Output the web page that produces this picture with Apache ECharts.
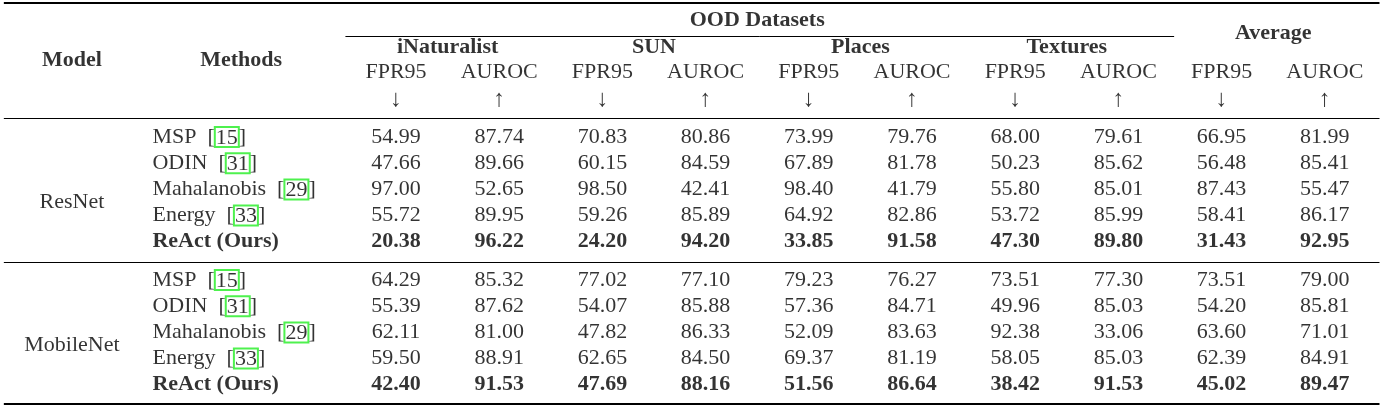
<!DOCTYPE html>
<html><head><meta charset="utf-8">
<script src="https://cdn.jsdelivr.net/npm/echarts@6/dist/echarts.min.js"></script>
<style>html,body{margin:0;padding:0;background:#fff}#c{width:1387px;height:409px}</style>
</head><body><div id="c"></div>
<script>
const datasets=['iNaturalist','SUN','Places','Textures'];
const metrics=['FPR95','AUROC'];
const arrows=['↓','↑'];
const models=['ResNet','MobileNet'];
const methods=['MSP','ODIN','Mahalanobis','Energy','ReAct (Ours)'];
const cites=['15','31','29','33',''];
const resnetVals=[
['54.99','87.74','70.83','80.86','73.99','79.76','68.00','79.61','66.95','81.99'],
['47.66','89.66','60.15','84.59','67.89','81.78','50.23','85.62','56.48','85.41'],
['97.00','52.65','98.50','42.41','98.40','41.79','55.80','85.01','87.43','55.47'],
['55.72','89.95','59.26','85.89','64.92','82.86','53.72','85.99','58.41','86.17'],
['20.38','96.22','24.20','94.20','33.85','91.58','47.30','89.80','31.43','92.95']];
const mobilenetVals=[
['64.29','85.32','77.02','77.10','79.23','76.27','73.51','77.30','73.51','79.00'],
['55.39','87.62','54.07','85.88','57.36','84.71','49.96','85.03','54.20','85.81'],
['62.11','81.00','47.82','86.33','52.09','83.63','92.38','33.06','63.60','71.01'],
['59.50','88.91','62.65','84.50','69.37','81.19','58.05','85.03','62.39','84.91'],
['42.40','91.53','47.69','88.16','51.56','86.64','38.42','91.53','45.02','89.47']];
const blocks=[resnetVals,mobilenetVals];

const FONT='Liberation Serif', FS=22;
const colModel=-3.14, colMethod=-2.36;
const blockTop=[137,280], rowStep=26.2, modelRow=[202,345];
const items=[];
function txt(x,y,t,opt){items.push({value:[x,y],label:Object.assign({formatter:t},opt||{})});}
const B={fontWeight:'bold'};
txt(3.5,20,'OOD Datasets',B);
datasets.forEach((d,i)=>txt(2*i+0.5,47,d,B));
txt(8.5,33,'Average',B);
txt(colModel,60,'Model',B);
txt(-1.5,60,'Methods',B);
for(let c=0;c<10;c++){txt(c,72,metrics[c%2]);txt(c,100,arrows[c%2],{fontSize:24});}
blocks.forEach((vals,b)=>{
  const y0=blockTop[b];
  txt(colModel,modelRow[b],models[b]);
  vals.forEach((row,r)=>{
    const y=y0+r*rowStep, bold=r===4;
    const m=cites[r]?'{m|'+methods[r]+'}  [{c|'+cites[r]+'}]':'{b|'+methods[r]+'}';
    txt(colMethod,y,m,{align:'left'});
    row.forEach((v,c)=>txt(c,y,v,bold?B:{}));
  });
});
const X0=-3.8,X1=9.53;
const lines=[[X0,3,X1,3,2],[-0.49,36,7.54,36,1],[X0,118,X1,118,1.2],[X0,262,X1,262,1.2],[X0,404,X1,404,2]];
const chart=echarts.init(document.getElementById('c'));
chart.setOption({
  animation:false,
  grid:{left:0,right:0,top:0,bottom:0},
  xAxis:{type:'value',min:-396/103.2,max:(1387-396)/103.2,show:false},
  yAxis:{type:'value',min:0,max:409,inverse:true,show:false},
  series:[{type:'scatter',symbolSize:0,data:items,
    label:{show:true,position:'inside',color:'#000',fontFamily:FONT,fontSize:FS,
      rich:{m:{fontFamily:FONT,fontSize:FS,color:'#000'},
            b:{fontFamily:FONT,fontSize:FS,color:'#000',fontWeight:'bold'},
            c:{fontFamily:FONT,fontSize:FS,color:'#000',borderColor:'#22ee22',borderWidth:2,padding:[0,1,-2,1]}}},
    markLine:{silent:true,symbol:'none',animation:false,label:{show:false},
      data:lines.map(l=>[{coord:[l[0],l[1]],lineStyle:{color:'#000',width:l[4],type:'solid'}},{coord:[l[2],l[3]]}])}
  }]
});
</script></body></html>
